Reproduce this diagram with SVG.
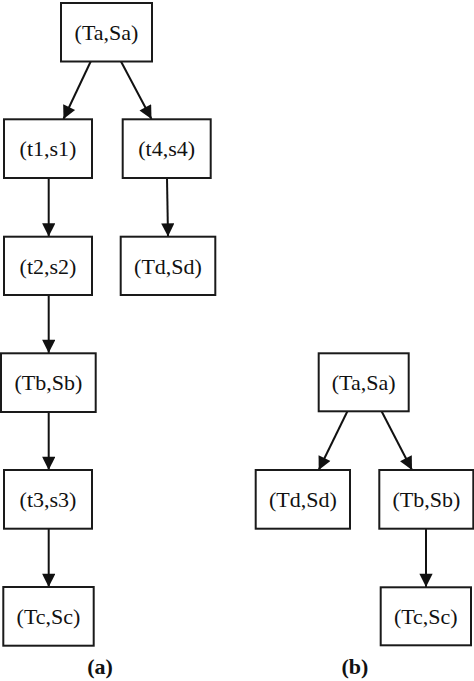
<svg xmlns="http://www.w3.org/2000/svg" width="474" height="681" viewBox="0 0 474 681">
<defs>
<style>
.n rect{fill:#fff;stroke:#1a1a1a;stroke-width:2}
.n text{font-family:"Liberation Serif","Times New Roman",serif;font-size:22px;fill:#111;text-anchor:middle}
.e line{stroke:#111;stroke-width:2;marker-end:url(#ah)}
.cap{font-family:"Liberation Serif","Times New Roman",serif;font-size:22px;font-weight:bold;fill:#111;text-anchor:middle}
</style>
<marker id="ah" viewBox="0 0 10 10" refX="10" refY="5" markerWidth="8.6" markerHeight="6.6" markerUnits="strokeWidth" orient="auto">
<path d="M0,0 L10,5 L0,10 z" fill="#111"/>
</marker>
</defs>
<rect width="474" height="681" fill="#fff"/>
<g class="e" id="edges">
<line x1="90.7" y1="61.5" x2="63.5" y2="119"/>
<line x1="121" y1="61.5" x2="151.5" y2="119"/>
<line x1="48.7" y1="178" x2="48.7" y2="236.5"/>
<line x1="167" y1="178" x2="168" y2="236.5"/>
<line x1="48.7" y1="295" x2="48.7" y2="353"/>
<line x1="48.7" y1="412" x2="48.7" y2="470"/>
<line x1="48.7" y1="528.7" x2="48.7" y2="587"/>
<line x1="347.3" y1="411.5" x2="318.7" y2="470"/>
<line x1="381.7" y1="411.5" x2="412" y2="470"/>
<line x1="426" y1="528.7" x2="426" y2="587"/>
</g>
<g class="n" id="a_TaSa"><rect x="61" y="3" width="91" height="58.5"/><text x="106.5" y="40">(Ta,Sa)</text></g>
<g class="n" id="a_t1s1"><rect x="4" y="119.3" width="88" height="58.7"/><text x="48" y="156">(t1,s1)</text></g>
<g class="n" id="a_t4s4"><rect x="122.7" y="119.3" width="88" height="58.7"/><text x="166.7" y="156">(t4,s4)</text></g>
<g class="n" id="a_t2s2"><rect x="4" y="236.7" width="88" height="58.3"/><text x="48" y="273.5">(t2,s2)</text></g>
<g class="n" id="a_TdSd"><rect x="120.7" y="236.7" width="94.6" height="58.3"/><text x="168" y="273.5">(Td,Sd)</text></g>
<g class="n" id="a_TbSb"><rect x="1" y="353.3" width="94.7" height="58.7"/><text x="48.3" y="390.3">(Tb,Sb)</text></g>
<g class="n" id="a_t3s3"><rect x="4" y="470" width="88" height="58.7"/><text x="48" y="507">(t3,s3)</text></g>
<g class="n" id="a_TcSc"><rect x="3.3" y="587" width="90.4" height="58.7"/><text x="48.5" y="624">(Tc,Sc)</text></g>
<g class="n" id="b_TaSa"><rect x="318.7" y="353.3" width="90" height="58"/><text x="363.7" y="390">(Ta,Sa)</text></g>
<g class="n" id="b_TdSd"><rect x="255.7" y="470" width="94.3" height="58.7"/><text x="302.8" y="507">(Td,Sd)</text></g>
<g class="n" id="b_TbSb"><rect x="379.3" y="470" width="94" height="58.7"/><text x="426.3" y="507">(Tb,Sb)</text></g>
<g class="n" id="b_TcSc"><rect x="380.7" y="587.3" width="90.3" height="58"/><text x="425.8" y="624">(Tc,Sc)</text></g>
<text class="cap" x="100" y="674">(a)</text>
<text class="cap" x="355" y="674">(b)</text>
</svg>
